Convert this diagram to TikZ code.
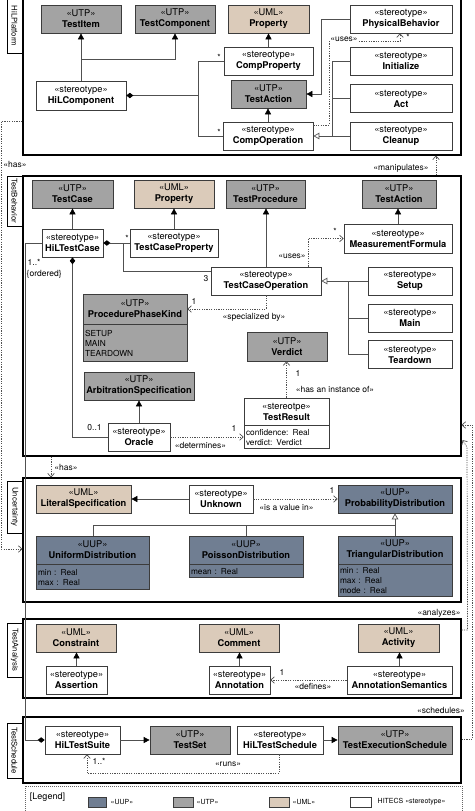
\documentclass[tikz,border=0pt]{standalone}
\usepackage{fontspec}
\setmainfont{TeX Gyre Heros}
\usetikzlibrary{arrows.meta,calc}
\definecolor{uupc}{RGB}{112,126,146}
\definecolor{utpc}{RGB}{163,163,163}
\definecolor{umlc}{RGB}{219,203,186}
\definecolor{bord}{RGB}{60,60,60}
\definecolor{linec}{RGB}{80,80,80}
\newcommand\nfont{\fontsize{9.3}{11}\selectfont}
\newcommand\afont{\fontsize{8.3}{9.8}\selectfont}
\newcommand\lfont{\fontsize{8.5}{10}\selectfont}
\newcommand\tfont{\fontsize{7.8}{9}\selectfont}
\newcommand\cls[2]{«#1»\\\textbf{#2}}
\begin{document}
\begin{tikzpicture}[x=1pt,y=-1pt,
  base/.style={draw=bord,line width=0.7pt,align=center,inner sep=0pt,font=\nfont},
  ster/.style={base,fill=white},
  utp/.style={base,fill=utpc},
  uml/.style={base,fill=umlc},
  uup/.style={base,fill=uupc},
  attr/.style={draw=bord,line width=0.7pt,align=left,inner sep=2pt,font=\afont},
  sz/.style 2 args={minimum width=#1pt,minimum height=#2pt},
  frame/.style={draw=black,line width=1.1pt,inner sep=0pt},
  tab/.style={draw=black,line width=0.9pt,inner sep=0pt,rotate=-90,font=\tfont,fill=white},
  ln/.style={draw=linec,line width=0.7pt},
  gen/.style={ln,-{Triangle[length=6pt,width=6pt,color=black]}},
  hgen/.style={ln,-{Triangle[open,length=6pt,width=6.5pt]}},
  dep/.style={ln,dash pattern=on 1.2pt off 1.2pt,-{Straight Barb[length=3.5pt,width=6.5pt]}},
  dia/.style={ln,{Diamond[length=7pt,width=5.5pt,color=black]}-},
  diaE/.style={ln,-{Diamond[length=7pt,width=5.5pt,color=black]}},
  lab/.style={font=\lfont,inner sep=0.5pt},
]
\useasboundingbox (0,0) rectangle (474,811);

% ---------- package frames ----------
\node[frame,sz={438}{156}] (pHiL) at (242,77) {};
\node[frame,sz={438}{280}] (pTB) at (242,316) {};
\node[frame,sz={438}{124}] (pUnc) at (242,540) {};
\node[frame,sz={438}{79}] (pTA) at (242,658.5) {};
\node[frame,sz={438}{66}] (pTS) at (242,750) {};

\node[tab,minimum width=54pt,minimum height=15pt] (tHiL) at (14.5,26) {HiLPlatform};
\node[tab,minimum width=50pt,minimum height=15pt] (tTB) at (14.5,201) {TestBehavior};
\node[tab,minimum width=52pt,minimum height=15pt] (tUnc) at (14.5,507) {Uncertainty};
\node[tab,minimum width=54pt,minimum height=15pt] (tTA) at (14.5,650) {TestAnalysis};
\node[tab,minimum width=55pt,minimum height=15pt] (tTS) at (14.5,750.5) {TestSchedule};

% ---------- HiLPlatform ----------
\node[utp,sz={80}{28}] (testitem) at (81,19) {\cls{UTP}{TestItem}};
\node[utp,sz={80}{28}] (testcomp) at (175,19) {\cls{UTP}{TestComponent}};
\node[uml,sz={81}{28}] (propA) at (268.5,19) {\cls{UML}{Property}};
\node[ster,sz={102}{28}] (physb) at (401,19) {\cls{stereotype}{PhysicalBehavior}};
\node[ster,sz={89}{28}] (compprop) at (268.5,61) {\cls{stereotype}{CompProperty}};
\node[ster,sz={102}{28}] (init) at (401,61) {\cls{stereotype}{Initialize}};
\node[ster,sz={90}{29}] (hilcomp) at (81,95.5) {\cls{stereotype}{HiLComponent}};
\node[utp,sz={75}{28}] (testactA) at (268.5,94) {\cls{UTP}{TestAction}};
\node[ster,sz={102}{28}] (act) at (401,98.5) {\cls{stereotype}{Act}};
\node[ster,sz={90}{28}] (compop) at (268,136) {\cls{stereotype}{CompOperation}};
\node[ster,sz={102}{28}] (cleanup) at (401,136) {\cls{stereotype}{Cleanup}};

\draw[gen] (hilcomp.north) -- (testitem.south);
\draw[gen] ($(hilcomp.north)+(0,-21)$) -| (testcomp.south);
\coordinate (cj) at (198,95.5);
\draw[dia] (hilcomp.east) -- (cj);
\draw[ln] (cj) |- (compprop.west);
\draw[ln] (cj) |- (compop.west);
\node[lab] at (219,57) {*};
\node[lab] at (219,132) {*};
\draw[gen] (compprop.north) -- (propA.south);
\draw[gen] (compop.north) -- (compop.north |- testactA.south);
\draw[gen] (physb.west) -- ++(-28,0) |- (testactA.east);
\draw[hgen] (cleanup.west) -- (compop.east);
\draw[ln] (init.west) -- ++(-17,0) |- (cleanup.west);
\draw[ln] (act.west) -- ++(-17,0);
\draw[dep] ($(compop.east)+(0,-11)$) -| (329,41) -| ($(physb.south)+(-1,0)$);
\node[lab,fill=white] at (344,39.5) {«uses»};
\node[lab] at (408,37) {*};

% ---------- TestBehavior ----------
\node[utp,sz={81}{28}] (testcase) at (72.5,194) {\cls{UTP}{TestCase}};
\node[uml,sz={80}{28}] (propB) at (174,194) {\cls{UML}{Property}};
\node[utp,sz={79}{28}] (testproc) at (265.5,194) {\cls{UTP}{TestProcedure}};
\node[utp,sz={74}{28}] (testactB) at (399,194) {\cls{UTP}{TestAction}};
\node[ster,sz={61}{28}] (hiltc) at (72.5,243) {\cls{stereotype}{HiLTestCase}};
\node[ster,sz={88}{28}] (tcprop) at (174,243) {\cls{stereotype}{TestCaseProperty}};
\node[ster,sz={108}{29}] (measf) at (398,238.5) {\cls{stereotype}{MeasurementFormula}};
\node[ster,sz={110}{28}] (tcop) at (266,281) {\cls{stereotype}{TestCaseOperation}};
\node[ster,sz={84}{28}] (setup) at (410,281) {\cls{stereotype}{Setup}};
\node[ster,sz={84}{28}] (main) at (410,318) {\cls{stereotype}{Main}};
\node[ster,sz={84}{28}] (teardown) at (410,354.5) {\cls{stereotype}{Teardown}};
\node[utp,sz={104}{30}] (ppk) at (135,309) {\cls{UTP}{ProcedurePhaseKind}};
\node[attr,fill=utpc,sz={104}{37},text width=100pt,anchor=north] (ppkA) at (ppk.south) {SETUP\\MAIN\\TEARDOWN};
\node[utp,sz={110}{28}] (arb) at (139,386) {\cls{UTP}{ArbitrationSpecification}};
\node[utp,sz={80}{29}] (verdict) at (287,346.5) {\cls{UTP}{Verdict}};
\node[ster,sz={62}{28}] (oracle) at (139,437) {\cls{stereotype}{Oracle}};
\node[ster,sz={85}{27}] (tres) at (286.5,411.5) {\cls{stereotpe}{TestResult}};
\node[attr,fill=white,sz={85}{23},text width=81pt,anchor=north] (tresA) at (tres.south) {confidence: Real\\verdict: Verdict};

\draw[gen] (hiltc.north) -- (testcase.south);
\draw[gen] (tcprop.north) -- (propB.south);
\draw[gen] (measf.north) -- (measf.north |- testactB.south);
\draw[gen] (tcop.north) -- (tcop.north |- testproc.south);
\draw[dia] (hiltc.east) -- (tcprop.west);
\draw[ln] ($(hiltc.east)+(20,0)$) |- ($(tcop.west)+(0,-10)$);
\node[lab] at (127,238) {*};
\node[lab] at (206,279) {3};
\draw[dia] (hiltc.south) |- (oracle.west);
\node[lab] at (94.5,428) {0..1};
\draw[gen] (oracle.north) -- (arb.south);
\draw[dep] (oracle.east) -- (oracle.east -| tresA.west);
\node[lab] at (234,428) {1};
\node[lab] at (200.5,445) {«determines»};
\draw[dep] (tres.north) -- (tres.north |- verdict.south);
\node[lab] at (298,373) {1};
\node[lab] at (335,389) {«has an instance of»};
\draw[dep] (tcop.south) |- (ppk.east);
\node[lab] at (194,301) {1};
\node[lab] at (254,317) {«specialized by»};
\draw[dep] ($(tcop.north)+(42,0)$) |- (measf.west);
\node[lab] at (335,231) {*};
\node[lab] at (292,256) {«uses»};
\draw[hgen] (setup.west) -- (tcop.east);
\draw[ln] ($(setup.west)+(-19,0)$) |- (teardown.west);
\draw[ln] (main.west) -- ++(-19,0);

% ---------- Uncertainty ----------
\node[uml,sz={95}{28}] (lit) at (83.5,499) {\cls{UML}{LiteralSpecification}};
\node[ster,sz={64}{28}] (unk) at (221,499) {\cls{stereotype}{Unknown}};
\node[uup,sz={114}{28}] (prob) at (395,499) {\cls{UUP}{ProbabilityDistribution}};
\node[uup,sz={113}{28}] (unif) at (92.5,550) {\cls{UUP}{UniformDistribution}};
\node[attr,fill=uupc,sz={113}{25},text width=109pt,anchor=north] (unifA) at (unif.south) {min : Real\\max : Real};
\node[uup,sz={114}{28}] (poi) at (246,550) {\cls{UUP}{PoissonDistribution}};
\node[attr,fill=uupc,sz={114}{13},text width=110pt,anchor=north] (poiA) at (poi.south) {mean : Real};
\node[uup,sz={114}{28}] (tri) at (395,550) {\cls{UUP}{TriangularDistribution}};
\node[attr,fill=uupc,sz={114}{32},text width=110pt,anchor=north] (triA) at (tri.south) {min : Real\\max : Real\\mode : Real};

\draw[gen] (unk.west) -- (lit.east);
\draw[dep] (unk.east) -- (prob.west);
\node[lab] at (332,490) {1};
\node[lab] at (286.5,507) {«is a value in»};
\draw[hgen] (tri.north) -- (prob.south);
\draw[ln] ($(unif.north)+(0.5,0)$) |- ($(tri.north)+(0,-10)$);
\draw[ln] (poi.north) -- ++(0,-10);

% ---------- TestAnalysis ----------
\node[uml,sz={80}{28}] (constr) at (76,638) {\cls{UML}{Constraint}};
\node[uml,sz={80}{28}] (comment) at (239,638) {\cls{UML}{Comment}};
\node[uml,sz={81}{28}] (activity) at (398.5,638) {\cls{UML}{Activity}};
\node[ster,sz={61}{28}] (assert) at (76.5,680) {\cls{stereotype}{Assertion}};
\node[ster,sz={61}{28}] (annot) at (239.5,680) {\cls{stereotype}{Annotation}};
\node[ster,sz={105}{28}] (annsem) at (399.5,680) {\cls{stereotype}{AnnotationSemantics}};

\draw[gen] (assert.north) -- (assert.north |- constr.south);
\draw[gen] (annot.north) -- (annot.north |- comment.south);
\draw[gen] (annsem.north) -- (annsem.north |- activity.south);
\draw[dep] (annsem.west) -- (annot.east);
\node[lab] at (282,672) {1};
\node[lab] at (313,686) {«defines»};

% ---------- TestSchedule ----------
\node[ster,sz={75}{28}] (suite) at (82.5,740) {\cls{stereotype}{HiLTestSuite}};
\node[utp,sz={80}{28}] (tset) at (190,740) {\cls{UTP}{TestSet}};
\node[ster,sz={86}{28}] (sched) at (280,740) {\cls{stereotype}{HiLTestSchedule}};
\node[utp,sz={114}{28}] (tes) at (395,740) {\cls{UTP}{TestExecutionSchedule}};

\draw[gen] (suite.east) -- (tset.west);
\draw[gen] (sched.east) -- (tes.west);
\draw[dep] ($(sched.south)+(-1,0)$) -- ++(0,19) -| ($(suite.south)+(4.5,0)$);
\node[lab] at (228,764) {«runs»};
\node[lab,anchor=west] at (92,761) {1..*};

% HiLTestSuite owns HiLTestCase
\draw[diaE] (hiltc.west) -- ++(-16,0) |- (suite.west);
\node[lab,anchor=west] at (27,262) {1..*};
\node[lab,anchor=west] at (26,274) {\{ordered\}};

% ---------- package dependencies ----------
\draw[dep] ($(pHiL.west)+(0,44)$) -| ($(pUnc.west)+(-21,9)$) -- ($(pUnc.west)+(0,9)$);
\node[lab] at (15,164) {«has»};
\draw[dep] ($(pTB.north)+(194,0)$) -- ($(pHiL.south)+(194,0)$);
\node[lab] at (401,168) {«manipulates»};
\draw[dep] ($(pTB.south)+(-191,0)$) -- ($(pUnc.north)+(-191,0)$);
\node[lab] at (66,467) {«has»};
\draw[dep] ($(pTA.east)+(0,-28.5)$) -- ++(6,0) -- (467,447) -- ($(pTB.east)+(1,124)$);
\node[lab] at (439,613) {«analyzes»};
\draw[dep] ($(pTS.east)+(0,-11)$) -- (472.5,739) -- (472.5,425) -- ($(pTB.east)+(0,109)$);
\node[lab] at (441,710) {«schedules»};

% ---------- legend ----------
\draw[draw=black!60,line width=0.6pt,dash pattern=on 1pt off 1pt] (25,786) rectangle (462,815);
\node[lab,font=\fontsize{9}{10}\selectfont] (legtitle) at (47.5,797) {[Legend]};
\node[uup,sz={18}{10}] (lgUUP) at (97,802) {};
\node[lab,anchor=west,font=\fontsize{7}{8}\selectfont] at (110,802) {«UUP»};
\node[utp,sz={20}{10}] (lgUTP) at (183,802) {};
\node[lab,anchor=west,font=\fontsize{7}{8}\selectfont] at (196,802) {«UTP»};
\node[uml,sz={20}{10}] (lgUML) at (279,802) {};
\node[lab,anchor=west,font=\fontsize{7}{8}\selectfont] at (292,802) {«UML»};
\node[ster,sz={21}{10}] (lgST) at (360.5,802) {};
\node[lab,anchor=west,font=\fontsize{7}{8}\selectfont] at (377,802) {HITECS «stereotype»};
\end{tikzpicture}
\end{document}
